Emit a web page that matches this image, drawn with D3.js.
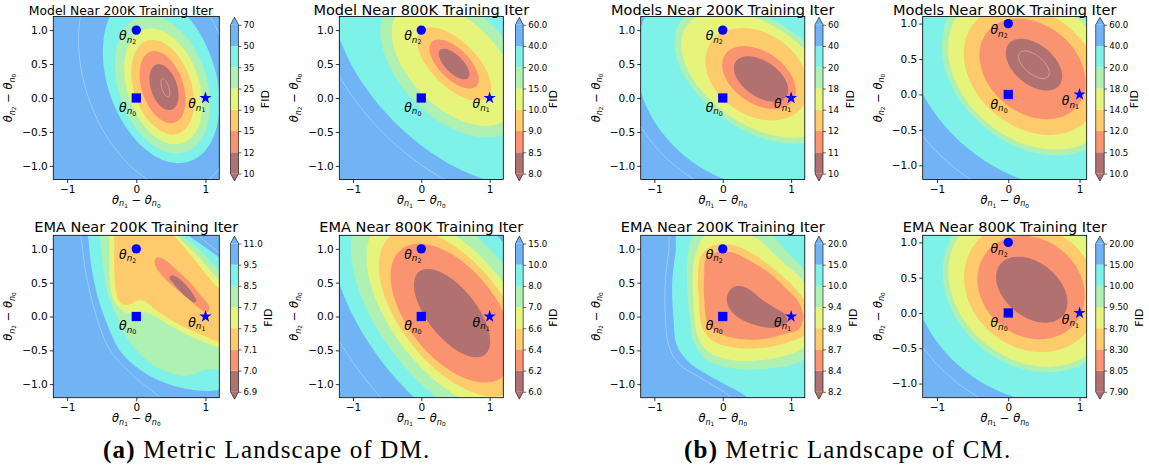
<!DOCTYPE html>
<html>
<head>
<meta charset="utf-8">
<script src="https://cdn.jsdelivr.net/npm/d3@7"></script>
<style>
  body { margin: 0; background: #fff; }
  svg text { font-family: "DejaVu Sans", sans-serif; fill: #000; }
</style>
</head>
<body>
<svg id="fig" width="1149" height="465"></svg>
<script>
// ---------- data ----------

const titles = [
  'Model Near 200K Training Iter', 'Model Near 800K Training Iter',
  'Models Near 200K Training Iter', 'Models Near 800K Training Iter',
  'EMA Near 200K Training Iter', 'EMA Near 800K Training Iter',
  'EMA Near 200K Training Iter', 'EMA Near 800K Training Iter'
];

// colorbar levels (FID), bottom to top
const fidDm200 = ['10', '12', '15', '19', '25', '35', '50', '70'];
const fidDm800 = ['8.0', '8.5', '9.0', '10.0', '15.0', '20.0', '40.0', '60.0'];
const fidCm200 = ['10', '11', '12', '14', '18', '20', '40', '60'];
const fidCm800 = ['10.0', '10.5', '12.0', '14.0', '18.0', '20.0', '40.0', '60.0'];
const fidDmEma200 = ['6.9', '7.0', '7.1', '7.5', '7.7', '8.5', '9.5', '11.0'];
const fidDmEma800 = ['6.0', '6.2', '6.4', '6.6', '7.0', '8.0', '10.0', '15.0'];
const fidCmEma200 = ['8.2', '8.4', '8.7', '8.9', '9.4', '10.0', '15.0', '20.0'];
const fidCmEma800 = ['7.90', '8.05', '8.30', '8.70', '9.50', '10.00', '15.00', '20.00'];

const xTicks = [-1, 0, 1];
const yTicks = [-1, -0.5, 0, 0.5, 1];

// the three checkpoints in the plane
const anchors = [
  {x: 0, y: 1, sub: '2', shape: 'circle'},
  {x: 0, y: 0, sub: '0', shape: 'square'},
  {x: 1, y: 0, sub: '1', shape: 'star'}
];

// level sets, outermost first: [FID level, cx, cy, a, b, tilt in degrees]
const dm200Model = [
  [70, 0.30, 0.35, 1.75, 1.05, -72],
  [50, 0.36, 0.30, 1.30, 0.78, -72],
  [35, 0.38, 0.20, 1.05, 0.64, -72],
  [25, 0.39, 0.17, 0.88, 0.52, -72],
  [19, 0.38, 0.16, 0.72, 0.415, -72],
  [15, 0.38, 0.16, 0.55, 0.30, -72],
  [12, 0.40, 0.16, 0.35, 0.19, -72],
  [10, 0.42, 0.15, 0.14, 0.05, -72]
];
const dm800Model = [
  [60, 0.48, 0.50, 2.50, 1.45, -45],
  [40, 0.48, 0.50, 2.20, 1.22, -45],
  [20, 0.48, 0.50, 1.30, 0.80, -45],
  [15, 0.48, 0.50, 1.12, 0.64, -45],
  [10, 0.48, 0.50, 0.69, 0.33, -45],
  [9, 0.48, 0.50, 0.46, 0.22, -45],
  [8.5, 0.48, 0.50, 0.29, 0.13, -45]
];
const cm200Model = [
  [60, 0.50, 0.35, 2.10, 1.80, -35],
  [40, 0.50, 0.35, 1.85, 1.60, -35],
  [20, 0.50, 0.35, 1.36, 0.81, -35],
  [18, 0.50, 0.35, 1.25, 0.73, -35],
  [14, 0.50, 0.35, 0.82, 0.60, -35],
  [12, 0.53, 0.30, 0.60, 0.38, -35],
  [11, 0.56, 0.28, 0.45, 0.26, -35]
];
const cm800Model = [
  [60, 0.30, 0.30, 2.25, 1.70, -40],
  [40, 0.33, 0.34, 1.95, 1.42, -40],
  [20, 0.33, 0.34, 1.40, 1.04, -40],
  [18, 0.33, 0.34, 1.30, 0.97, -40],
  [14, 0.33, 0.34, 1.05, 0.80, -40],
  [12, 0.34, 0.36, 0.82, 0.62, -40],
  [10.5, 0.36, 0.42, 0.46, 0.28, -40],
  [10, 0.36, 0.42, 0.26, 0.13, -40]
];
const dm800Ema = [
  [15, 0.45, 0.05, 2.90, 1.60, -52],
  [10, 0.45, 0.05, 2.40, 1.25, -52],
  [8, 0.45, 0.05, 2.00, 1.04, -52],
  [7, 0.45, 0.05, 1.70, 0.87, -52],
  [6.6, 0.45, 0.05, 1.45, 0.75, -52],
  [6.4, 0.45, 0.05, 1.20, 0.65, -52],
  [6.2, 0.45, 0.05, 0.78, 0.36, -52]
];
const cm800Ema = [
  [20, 0.32, 0.36, 2.10, 1.70, -40],
  [15, 0.32, 0.36, 1.80, 1.50, -40],
  [10, 0.32, 0.36, 1.33, 1.10, -40],
  [9.5, 0.32, 0.36, 1.25, 1.02, -40],
  [8.7, 0.32, 0.36, 1.00, 0.85, -40],
  [8.3, 0.32, 0.36, 0.80, 0.68, -40],
  [8.05, 0.33, 0.33, 0.57, 0.38, -40]
];

// irregular level sets, outermost first: [FID level, outline points]
const dm200Ema = [
  [11.0, [[-0.83, 1.33], [-0.8, 1.18], [-0.73, 0.65], [-0.58, 0.01], [-0.39, -0.48], [-0.05, -0.87], [0.34, -1.2], [0.48, -1.41], [1.45, -1.41], [1.45, 0.74], [1.31, 0.84], [1.14, 0.99], [0.92, 1.18], [0.82, 1.33]]],
  [9.5, [[-0.74, 1.33], [-0.7, 1.18], [-0.65, 0.74], [-0.56, 0.3], [-0.41, -0.14], [-0.22, -0.53], [0.1, -0.82], [0.44, -0.99], [0.78, -1.08], [1.02, -1.1], [1.36, -1.07], [1.45, -1.07], [1.45, 0.69], [1.36, 0.74], [1.2, 0.87], [1.02, 1.01], [0.78, 1.18], [0.63, 1.33]]],
  [8.5, [[-0.57, 1.33], [-0.53, 1.18], [-0.48, 0.74], [-0.4, 0.3], [-0.24, -0.09], [-0.07, -0.41], [0.19, -0.68], [0.48, -0.83], [0.73, -0.88], [0.92, -0.81], [1.11, -0.78], [1.36, -0.83], [1.45, -0.85], [1.45, 0.55], [1.36, 0.6], [1.2, 0.69], [0.92, 0.99], [0.68, 1.18], [0.53, 1.33]]],
  [7.7, [[-0.41, 1.33], [-0.39, 1.18], [-0.39, 0.74], [-0.36, 0.35], [-0.29, 0.18], [-0.15, 0.06], [0, 0.05], [0.15, 0.06], [0.29, -0.01], [0.53, -0.16], [0.82, -0.31], [1.2, -0.46], [1.45, -0.53], [1.45, 0.35], [1.36, 0.45], [1.2, 0.55], [0.85, 0.94], [0.6, 1.18], [0.46, 1.33]]],
  [7.5, [[-0.34, 1.33], [-0.32, 1.18], [-0.32, 0.74], [-0.29, 0.35], [-0.23, 0.2], [-0.12, 0.17], [0, 0.23], [0.12, 0.23], [0.24, 0.13], [0.44, -0.01], [0.68, -0.15], [0.92, -0.26], [1.2, -0.38], [1.45, -0.45], [1.45, 0.25], [1.36, 0.28], [1.2, 0.4], [0.8, 0.89], [0.56, 1.18], [0.41, 1.33]]],
  [7.1, [[0.29, 0.87], [0.41, 0.84], [0.58, 0.69], [0.78, 0.5], [0.94, 0.3], [1.06, 0.13], [1.02, 0.06], [0.9, 0.13], [0.73, 0.28], [0.53, 0.45], [0.36, 0.62], [0.27, 0.77]]],
  [7.0, [[0.51, 0.61], [0.61, 0.57], [0.73, 0.45], [0.82, 0.33], [0.87, 0.23], [0.83, 0.21], [0.73, 0.28], [0.61, 0.4], [0.52, 0.51], [0.48, 0.57]]]
];
const cm200Ema = [
  [20.0, [[-0.71, 1.33], [-0.79, 0.94], [-0.84, 0.5], [-0.84, 0.01], [-0.79, -0.43], [-0.64, -0.7], [-0.27, -0.94], [0.12, -1.2], [0.27, -1.5], [1.7, -1.5], [1.7, 1.33]]],
  [15.0, [[-0.62, 1.33], [-0.69, 0.94], [-0.74, 0.5], [-0.72, -0.04], [-0.67, -0.43], [-0.49, -0.68], [-0.12, -0.92], [0.37, -1.21], [0.52, -1.5], [1.7, -1.5], [1.7, 1.33]]],
  [10.0, [[-0.52, 0.84], [-0.44, 1.18], [-0.27, 1.35], [0.52, 1.35], [0.96, 0.94], [1.26, 0.6], [1.43, 0.25], [1.5, -0.09], [1.4, -0.43], [1.11, -0.68], [0.67, -0.77], [0.17, -0.77], [-0.22, -0.65], [-0.42, -0.38], [-0.49, 0.01], [-0.52, 0.45]]],
  [9.4, [[-0.39, 0.94], [-0.25, 1.2], [0.12, 1.26], [0.47, 1.17], [0.86, 0.82], [1.16, 0.55], [1.33, 0.25], [1.4, -0.04], [1.33, -0.33], [1.06, -0.53], [0.67, -0.63], [0.17, -0.65], [-0.2, -0.53], [-0.37, -0.28], [-0.43, 0.25], [-0.44, 0.65]]],
  [8.9, [[-0.32, 0.89], [-0.17, 1.04], [0.12, 1.06], [0.42, 0.94], [0.76, 0.69], [1.03, 0.45], [1.23, 0.18], [1.28, -0.04], [1.21, -0.26], [0.96, -0.38], [0.62, -0.46], [0.17, -0.46], [-0.15, -0.36], [-0.3, -0.16], [-0.35, 0.25], [-0.36, 0.65]]],
  [8.7, [[-0.25, 0.84], [-0.12, 0.94], [0.12, 0.95], [0.37, 0.84], [0.67, 0.65], [0.91, 0.43], [1.11, 0.21], [1.18, -0.02], [1.11, -0.19], [0.91, -0.26], [0.62, -0.33], [0.22, -0.33], [-0.07, -0.24], [-0.22, -0.09], [-0.27, 0.25], [-0.27, 0.65]]],
  [8.4, [[0.07, 0.33], [0.15, 0.43], [0.27, 0.45], [0.42, 0.38], [0.57, 0.25], [0.76, 0.13], [0.91, 0.03], [0.94, -0.09], [0.81, -0.16], [0.62, -0.16], [0.37, -0.09], [0.17, 0.03], [0.07, 0.18]]]
];

const panels = [
  {title: titles[0], fid: fidDm200, levels: dm200Model, col: 0, row: 0, xMax: 1.2, yMax: 1.2},
  {title: titles[1], fid: fidDm800, levels: dm800Model, col: 1, row: 0, xMax: 1.2, yMax: 1.2},
  {title: titles[2], fid: fidCm200, levels: cm200Model, col: 2, row: 0, xMax: 1.2, yMax: 1.2},
  {title: titles[3], fid: fidCm800, levels: cm800Model, col: 3, row: 0, xMax: 1.1, yMax: 1.1},
  {title: titles[4], fid: fidDmEma200, levels: dm200Ema, col: 0, row: 1, xMax: 1.2, yMax: 1.2},
  {title: titles[5], fid: fidDmEma800, levels: dm800Ema, col: 1, row: 1, xMax: 1.2, yMax: 1.2},
  {title: titles[6], fid: fidCmEma200, levels: cm200Ema, col: 2, row: 1, xMax: 1.2, yMax: 1.2},
  {title: titles[7], fid: fidCmEma800, levels: cm800Ema, col: 3, row: 1, xMax: 1.1, yMax: 1.1}
];

const captions = [
  {tag: '(a)', text: ' Metric Landscape of DM.'},
  {tag: '(b)', text: ' Metric Landscape of CM.'}
];

// ---------- layout & style ----------

// jet_r at 60% alpha over white, bottom band to top band
const bandColors = ['#b27171', '#fa9470', '#fdca6c', '#e7f47c', '#aff0b3', '#7ef1e8', '#70b4f5'];

const colX = [[53.3, 219.3], [339.3, 503.3], [640.7, 804.8], [922.7, 1086.7]];
const rowY = [[16.5, 179.5], [235.3, 397.7]];
const cbarX = [[230.5, 238.5], [515.5, 523.2], [815, 823], [1095.7, 1104.2]];
const titleBase = [14.5, 232];
const captionX = [103, 684];

// label offset next to each checkpoint (data units)
const labelShift = {circle: [-0.25, -0.15], square: [-0.25, -0.2], star: [-0.25, -0.15]};

const svg = d3.select('#fig');
const defs = svg.append('defs');

// theta with nested subscript, e.g. θ_{n_1}
function theta(text, sub, size, dyStart) {
  text.append('tspan').attr('font-style', 'italic').attr('font-size', size)
    .attr('dy', dyStart).text('θ');
  text.append('tspan').attr('font-style', 'italic').attr('font-size', size * 0.7)
    .attr('dy', size * 0.2).text('n');
  text.append('tspan').attr('font-size', size * 0.5)
    .attr('dy', size * 0.12).text(sub);
  return -size * 0.32; // shift to return to baseline
}

// θ_{n_a} − θ_{n_0}
function diffLabel(text, a, size) {
  const back = theta(text, a, size, 0);
  text.append('tspan').attr('font-size', size).attr('dy', back).text(' − ');
  theta(text, '0', size, 0);
}

// outline points of one level set
function outline(entry) {
  if (Array.isArray(entry[1])) {
    return {pts: entry[1], curve: d3.curveCatmullRomClosed.alpha(0.5)};
  }
  const [, cx, cy, a, b, deg] = entry;
  const th = deg * Math.PI / 180;
  const pts = d3.range(0, 360, 3).map(t => {
    const r = t * Math.PI / 180;
    return [cx + a * Math.cos(th) * Math.cos(r) - b * Math.sin(th) * Math.sin(r),
            cy + a * Math.sin(th) * Math.cos(r) + b * Math.cos(th) * Math.sin(r)];
  });
  return {pts, curve: d3.curveLinearClosed};
}

function drawColorbar(g, fid, x0, x1, yTop, yBot) {
  const ext = (yBot - yTop) / 1.1 * 0.05;
  const s = d3.scalePoint().domain(fid).range([yBot - ext, yTop + ext]);

  g.selectAll('rect.band').data(fid.slice(1)).join('rect')
    .attr('class', 'band')
    .attr('x', x0).attr('width', x1 - x0)
    .attr('y', d => s(d))
    .attr('height', (d, i) => s(fid[i]) - s(d))
    .attr('fill', (d, i) => bandColors[i]);

  const xm = (x0 + x1) / 2;
  const top = s(fid[fid.length - 1]), bot = s(fid[0]);
  g.append('path').attr('d', `M${x0},${top}L${xm},${yTop}L${x1},${top}Z`)
    .attr('fill', bandColors[6]);
  g.append('path').attr('d', `M${x0},${bot}L${xm},${yBot}L${x1},${bot}Z`)
    .attr('fill', bandColors[0]);
  g.append('path')
    .attr('d', `M${x0},${top}L${xm},${yTop}L${x1},${top}L${x1},${bot}L${xm},${yBot}L${x0},${bot}Z`)
    .attr('fill', 'none').attr('stroke', '#000').attr('stroke-width', 0.6);

  const ax = g.append('g').attr('transform', `translate(${x1},0)`)
    .call(d3.axisRight(s).tickSize(3).tickPadding(2));
  ax.select('.domain').remove();
  ax.selectAll('line').attr('stroke-width', 0.6);
  ax.selectAll('text').attr('font-size', 8.6).attr('font-family', '"DejaVu Sans", sans-serif');

  let wMax = 0;
  ax.selectAll('text').each(function () { wMax = Math.max(wMax, this.getComputedTextLength()); });
  g.append('text')
    .attr('transform', `translate(${x1 + 5 + Math.max(wMax, 16) + 9.5},${(yTop + yBot) / 2}) rotate(-90)`)
    .attr('text-anchor', 'middle').attr('font-size', 11).text('FID');
}

panels.forEach((p, k) => {
  const [L, R] = colX[p.col];
  const [T, B] = rowY[p.row];
  const x = d3.scaleLinear().domain([-1.2, p.xMax]).range([L, R]);
  const y = d3.scaleLinear().domain([-1.2, p.yMax]).range([B, T]);
  const g = svg.append('g');

  defs.append('clipPath').attr('id', 'clip' + k)
    .append('rect').attr('x', L).attr('y', T).attr('width', R - L).attr('height', B - T);

  const field = g.append('g').attr('clip-path', `url(#clip${k})`);
  field.append('rect').attr('x', L).attr('y', T).attr('width', R - L).attr('height', B - T)
    .attr('fill', bandColors[6]);

  const nums = p.fid.map(Number);
  p.levels.forEach(entry => {
    const idx = nums.indexOf(entry[0]);
    const o = outline(entry);
    const line = d3.line().x(d => x(d[0])).y(d => y(d[1])).curve(o.curve);
    const seam = idx === 0 || idx === nums.length - 1;
    field.append('path').attr('d', line(o.pts))
      .attr('fill', bandColors[Math.max(idx - 1, 0)])
      .attr('stroke', seam ? 'rgba(255,255,255,0.45)' : 'none')
      .attr('stroke-width', 0.7);
  });

  // checkpoints
  const sym = {circle: [d3.symbolCircle, 69], square: [d3.symbolSquare, 86], star: [d3.symbolStar, 46]};
  anchors.forEach(m => {
    g.append('path')
      .attr('d', d3.symbol(sym[m.shape][0], sym[m.shape][1])())
      .attr('transform', `translate(${x(m.x)},${y(m.y)})`)
      .attr('fill', '#0000ff');
    const sh = labelShift[m.shape];
    const t = g.append('text').attr('x', x(m.x + sh[0])).attr('y', y(m.y + sh[1]));
    theta(t, m.sub, 12.5, 0);
  });

  g.append('rect').attr('x', L).attr('y', T).attr('width', R - L).attr('height', B - T)
    .attr('fill', 'none').attr('stroke', '#000').attr('stroke-width', 0.8);

  // axes
  const ax = g.append('g').attr('transform', `translate(0,${B})`)
    .call(d3.axisBottom(x).tickValues(xTicks).tickFormat(d3.format('d')).tickSize(3.5).tickPadding(2.5));
  const ay = g.append('g').attr('transform', `translate(${L},0)`)
    .call(d3.axisLeft(y).tickValues(yTicks).tickFormat(d3.format('.1f')).tickSize(3.5).tickPadding(2));
  [ax, ay].forEach(a => {
    a.select('.domain').remove();
    a.selectAll('line').attr('stroke-width', 0.8);
    a.selectAll('text').attr('font-size', 10.5).attr('font-family', '"DejaVu Sans", sans-serif');
  });

  // title
  g.append('text')
    .attr('x', k === 0 ? 121 : (L + R) / 2).attr('y', titleBase[p.row])
    .attr('text-anchor', 'middle').attr('font-size', k === 0 ? 12.4 : 14.5)
    .text(p.title);

  // axis labels
  const xl = g.append('text').attr('x', (L + R) / 2).attr('y', B + 24.5)
    .attr('text-anchor', 'middle');
  diffLabel(xl, '1', 11.5);
  const yl = g.append('text')
    .attr('transform', `translate(${L - 41},${(T + B) / 2}) rotate(-90)`)
    .attr('text-anchor', 'middle');
  diffLabel(yl, '2', 11.5);

  drawColorbar(g.append('g'), p.fid, cbarX[p.col][0], cbarX[p.col][1], T + 0.8, B + 1.5);
});

// sub-figure captions
captions.forEach((c, i) => {
  const t = svg.append('text').attr('x', captionX[i]).attr('y', 458)
    .style('font-family', '"Liberation Serif", serif').attr('font-size', 25)
    .attr('letter-spacing', 1.2);
  t.append('tspan').attr('font-weight', 'bold').text(c.tag);
  t.append('tspan').text(c.text);
});
</script>
</body>
</html>
